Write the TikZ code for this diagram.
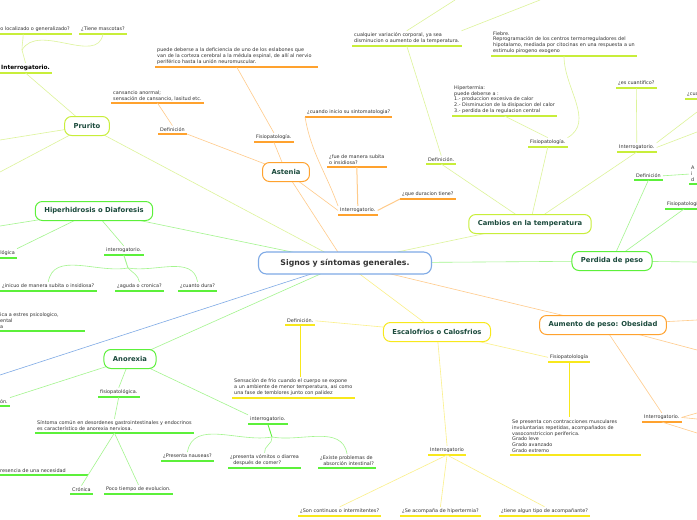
\documentclass[tikz,border=0pt]{standalone}
\usepackage{fontspec}
\setmainfont{DejaVu Sans}
\definecolor{lime}{HTML}{C8EE3A}
\definecolor{limel}{HTML}{DDF49A}
\definecolor{org}{HTML}{FFA22E}
\definecolor{orgl}{HTML}{FFCB8A}
\definecolor{grn}{HTML}{5CF03A}
\definecolor{grnl}{HTML}{A4F58E}
\definecolor{yel}{HTML}{F8E81C}
\definecolor{yell}{HTML}{FBF08A}
\definecolor{blu}{HTML}{7FAAE6}
\definecolor{txt}{HTML}{333333}
\definecolor{ttl}{HTML}{1B4A3C}
\tikzset{
  lbl/.style={font=\fontsize{4.9}{5.9}\selectfont, text=txt, anchor=south west, inner xsep=2pt, inner ysep=2pt, align=left,
    append after command={(\tikzlastnode.south west) edge[draw=#1, line width=1.4pt] (\tikzlastnode.south east)}},
  lblr/.style={lbl=#1, anchor=south east},
  topic/.style={draw=#1, line width=1pt, rounded corners=7pt, fill=white, font=\bfseries\fontsize{6.8}{7.5}\selectfont, text=ttl, minimum height=19pt, inner xsep=9pt},
  cn/.style={draw=#1, line width=0.6pt},
}
\begin{document}
\begin{tikzpicture}[x=1pt,y=-1pt]
\useasboundingbox (0,0) rectangle (697,520);
\clip (0,0) rectangle (697,520);
\fill[white] (0,0) rectangle (697,520);

% ---------- Prurito ----------
\node[lblr=lime] (pq1) at (72,34) {¿Es de tipo localizado o generalizado?};
\node[lbl=lime] (pq2) at (79,34) {¿Tiene mascotas?};
\node[lblr=lime, font=\bfseries\fontsize{5.8}{6.5}\selectfont, text=black] (pint) at (52,73) {Interrogatorio.};
\coordinate (pj) at (22,50);
\draw[cn=limel] (pint.north) -- (pj);
\draw[cn=limel] (pj) to[out=90,in=-90] (pq1.south);
\draw[cn=limel] (pj) to[out=60,in=-100] (pq2.south);
\coordinate (pl1) at (0,140); \coordinate (pl2) at (0,172);

% ---------- Astenia ----------
\node[lbl=org] (apu) at (155,67) {puede deberse a la deficiencia de uno de los eslabones que\\van de la corteza cerebral a la médula espinal, de allí al nervio\\periférico hasta la unión neuromuscular.\hspace*{60pt}};
\node[lbl=org] (aca) at (111,103) {cansancio anormal;\\sensación de cansancio, lasitud etc.};
\node[lbl=org] (adef) at (158,134) {Definición};
\node[lbl=org] (afis) at (254,142) {Fisiopatología.};
\node[lbl=org] (acu) at (305,117) {¿cuando inicio su sintomatologia?};
\node[lbl=org] (afu) at (327,167) {¿fue de manera subita\\o insidiosa?};
\node[lbl=org] (aint) at (338,215) {Interrogatorio.};
\node[lbl=org] (adu) at (400,199) {¿que duracion tiene?};

% ---------- Hiperhidrosis ----------
\node[lblr=grn] (hg) at (17,258) {Fisiológica};
\node[lbl=grn] (hint) at (104,255) {interrogatorio.};
\node[lbl=grn] (hq1) at (0,291) {¿inicuo de manera subita o insidiosa?};
\node[lbl=grn] (hq2) at (115,291) {¿aguda o cronica?};
\node[lbl=grn] (hq3) at (178,291) {¿cuanto dura?};
\node[lbl=grn] (hres) at (-2,331) {ica a estres psicologico,\\ental\\a\hspace*{80pt}};
\coordinate (hl) at (0,226);
\coordinate (hj) at (128,268);

% ---------- Anorexia ----------
\node[lblr=grn] (ndef) at (10,406) {Definición.};
\node[lbl=grn] (nfis) at (98,397) {fisiopatológica.};
\node[lbl=grn] (nsin) at (35,433) {Síntoma común en desordenes gastrointestinales y endocrinos\\es característico de anorexia nerviosa.\hspace*{50pt}};
\node[lbl=grn] (npre) at (-2,475) {resencia de una necesidad\hspace*{20pt}};
\node[lbl=grn] (ncro) at (70,494) {Crónica};
\node[lbl=grn] (npoc) at (104,494) {Poco tiempo de evolucion.};
\node[lbl=grn] (nint) at (248,424) {interrogatorio.};
\node[lbl=grn] (nq1) at (161,461) {¿Presenta nauseas?};
\node[lbl=grn] (nq2) at (228,468) {¿presenta vómitos o diarrea\\\ \ después de comer?};
\node[lbl=grn] (nq3) at (318,468) {¿Existe problemas de\\\ \ absorción intestinal?};
\coordinate (nj) at (272,437);
\coordinate (bl) at (0,375);

% ---------- Cambios ----------
\node[lbl=lime] (cdefx) at (352,46) {cualquier variación corporal, ya sea\\disminucion o aumento de la temperatura.};
\node[lbl=lime] (cfie) at (491,56) {Fiebre.\\Reprogramación de los centros termorreguladores del\\hipotalamo, mediada por citocinas en una respuesta a un\\estimulo pirogeno exogeno\hspace*{30pt}};
\node[lbl=lime] (chip) at (452,116) {Hipertermia:\\puede deberse a :\\1.- produccion excesiva de calor\\2.- Disminucion de la disipacion del calor\\3.- perdida de la regulacion central};
\node[lbl=lime] (cdef) at (426,164) {Definición.};
\node[lbl=lime] (cfis) at (528,147) {Fisiopatología.};
\node[lbl=lime] (ces) at (616,88) {¿es cuantifico?};
\node[lbl=lime] (cint) at (617,152) {Interrogatorio.};
\node[lbl=lime] (ccu) at (685,99) {¿cuando inicio?};
\coordinate (ct1) at (455,0); \coordinate (ct2) at (540,0);
\coordinate (cr1) at (697,112); \coordinate (cr2) at (697,132);

% ---------- Perdida ----------
\node[lbl=grn] (pdef) at (634,180) {Definición};
\node[lbl=grn] (pa) at (689,184) {A\\i\\d};
\node[lbl=grn] (pfis) at (665,209) {Fisiopatología};
\coordinate (pr) at (697,262);

% ---------- Escalofrios ----------
\node[lbl=yel] (edef) at (285,325) {Definición.};
\node[lbl=yel] (esen) at (232,398) {Sensación de frio cuando el cuerpo se expone\\a un ambiente de menor temperatura, asi como\\una fase de temblores junto con palidez\hspace*{10pt}};
\node[lbl=yel] (efis) at (548,362) {Fisiopatolología};
\node[lbl=yel] (ese) at (510,455) {Se presenta con contracciones musculares\\involuntarias repetidas, acompañados de\\vasoconstriccion periferica.\\Grado leve\\Grado avanzado\\Grado extremo\hspace*{90pt}};
\node[lbl=yel] (eint) at (428,455) {Interrogatorio};
\node[lbl=yel] (eq1) at (298,516) {¿Son continuos o intermitentes?};
\node[lbl=yel] (eq2) at (400,516) {¿Se acompaña de hipertermia?};
\node[lbl=yel] (eq3) at (499,516) {¿tiene algun tipo de acompañante?};

% ---------- Obesidad ----------
\node[lbl=org] (oint) at (642,422) {Interrogatorio.};
\coordinate (or1) at (697,320); \coordinate (or2) at (697,350);
\coordinate (oi1) at (697,413); \coordinate (oi2) at (697,419); \coordinate (oi3) at (697,433);

% ---------- connectors ----------
\draw[cn=limel] (87,126) -- (pint.south);
\draw[cn=limel] (87,126) -- (pl1);
\draw[cn=limel] (87,126) -- (pl2);
\draw[cn=orgl] (286,172) -- (adef.south east);
\draw[cn=orgl] (adef.north) -- (aca.south);
\draw[cn=orgl] (286,172) -- (afis.south);
\draw[cn=orgl] (afis.north) -- (apu.south);
\draw[cn=orgl] (286,172) -- (aint.west);
\draw[cn=orgl] (aint.north west) to[out=110,in=-80] (acu.south west);
\draw[cn=orgl, line width=1pt] (aint.north) -- (afu.south);
\draw[cn=orgl, line width=1pt] (aint.east) -- (adu.south west);
\draw[cn=grnl] (94,211) -- (hl);
\draw[cn=grnl] (94,211) -- (hg.north east);
\draw[cn=grnl] (94,211) -- (hint.north);
\draw[cn=grnl, line width=0.9pt] (hint.south) -- (hj);
\draw[cn=grnl] (hj) to[out=190,in=80] (hq1.north);
\draw[cn=grnl] (hj) to[out=-45,in=100] (hq2.north);
\draw[cn=grnl] (hj) to[out=-10,in=100] (hq3.north);
\draw[cn=grnl] (130,359) -- (ndef.north east);
\draw[cn=grnl] (130,359) -- (nfis.north);
\draw[cn=grnl] (nfis.south) -- (nsin.north);
\draw[cn=grnl] (nsin.south) -- (ncro.north);
\draw[cn=grnl] (nsin.south) -- (npoc.north);
\draw[cn=grnl] (130,359) -- (nint.north west);
\draw[cn=grn, line width=0.9pt] (nint.south) -- (nj);
\draw[cn=grnl] (nj) to[out=190,in=80] (nq1.north);
\draw[cn=grnl] (nj) to[out=-80,in=100] (nq2.north);
\draw[cn=grnl] (nj) to[out=-10,in=100] (nq3.north);
\draw[cn=limel] (530,224) -- (cdef.south);
\draw[cn=limel] (cdef.north) -- (cdefx.south);
\draw[cn=limel] (530,224) -- (cfis.south);
\draw[cn=limel] (cfis.north) -- (chip.south);
\draw[cn=limel] (cfis.north east) to[out=30,in=-90] (cfie.south);
\draw[cn=limel] (530,224) -- (cint.south);
\draw[cn=limel] (cint.north) -- (ces.south);
\draw[cn=limel] (cint.north east) -- (cr1);
\draw[cn=limel] (cint.east) -- (cr2);
\draw[cn=limel] (cdefx.north) -- (ct1);
\draw[cn=limel] (cdefx.north east) -- (ct2);
\draw[cn=grnl] (612,261) -- (pdef.south);
\draw[cn=grnl] (pdef.east) -- (pa.west);
\draw[cn=grnl] (612,261) -- (pfis.south);
\draw[cn=grnl] (612,261) -- (pr);
\draw[cn=yell] (437,332) -- (edef.east);
\draw[cn=yel] (edef.south) -- (esen.north west -| edef.south);
\draw[cn=yell] (437,332) -- (efis.west);
\draw[cn=yel] (efis.south) -- (ese.north -| efis.south);
\draw[cn=yell] (437,332) -- (eint.north);
\draw[cn=yell] (eint.south) -- (eq1.north);
\draw[cn=yell] (eint.south) -- (eq2.north);
\draw[cn=yell] (eint.south) -- (eq3.north);
\draw[cn=orgl] (603,325) -- (oint.north);
\draw[cn=orgl] (603,325) -- (or1);
\draw[cn=orgl] (603,325) -- (or2);
\draw[cn=orgl] (oint.east) -- (oi1);
\draw[cn=orgl] (oint.east) -- (oi2);
\draw[cn=orgl] (oint.south) -- (oi3);
\draw[cn=limel] (345,263) -- (87,126);
\draw[cn=orgl] (345,263) -- (286,172);
\draw[cn=grnl] (345,263) -- (94,211);
\draw[cn=blu] (345,263) -- (bl);
\draw[cn=grnl] (345,263) -- (130,359);
\draw[cn=limel] (345,263) -- (530,224);
\draw[cn=grnl] (345,263) -- (612,261);
\draw[cn=yell] (345,263) -- (437,332);
\draw[cn=orgl] (345,263) -- (603,325);

% ---------- topics ----------
\node[topic=lime] (prurito) at (87,126) {Prurito};
\node[topic=org] (astenia) at (286,172) {Astenia};
\node[topic=grn] (hiper) at (94,211) {Hiperhidrosis o Diaforesis};
\node[topic=grn] (anorexia) at (130,359) {Anorexia};
\node[topic=lime] (cambios) at (530,224) {Cambios en la temperatura};
\node[topic=grn] (perdida) at (612,261) {Perdida de peso};
\node[topic=yel] (escalo) at (437,332) {Escalofrios o Calosfrios};
\node[topic=org] (obes) at (603,325) {Aumento de peso: Obesidad};
\node[draw=blu, line width=1.1pt, rounded corners=8pt, fill=white, font=\bfseries\fontsize{7.8}{9}\selectfont, text=black!80, minimum width=173pt, minimum height=22pt] (center) at (345,263) {Signos y síntomas generales.};
\end{tikzpicture}
\end{document}
